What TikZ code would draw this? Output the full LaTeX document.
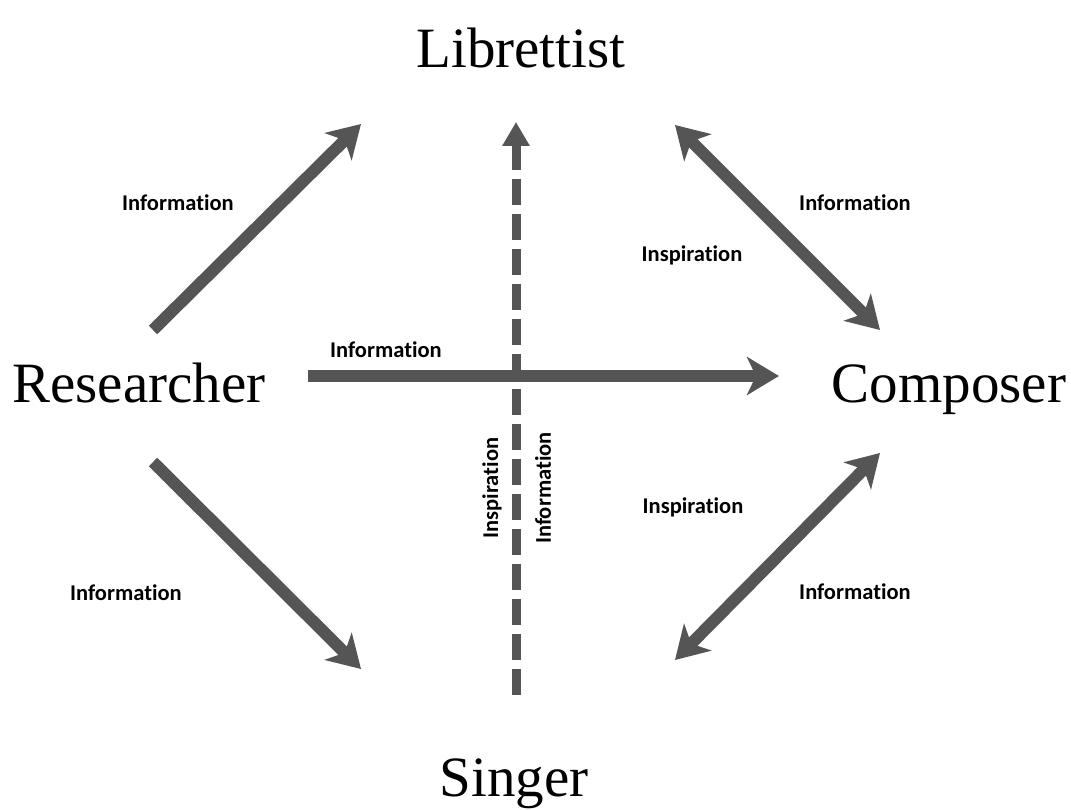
\documentclass[tikz,border=0pt]{standalone}
\usepackage{fontspec}
\setmainfont{Liberation Serif}
\newfontfamily\labfont{Carlito}[Ligatures=NoCommon]
\usetikzlibrary{arrows.meta}
\definecolor{arrowgray}{HTML}{555555}
\tikzset{
  bigtext/.style={font=\fontsize{57}{60}\selectfont, inner sep=0pt, anchor=base},
  smalltext/.style={font=\labfont\bfseries\fontsize{22.5}{25}\selectfont, inner sep=0pt},
  flow/.style={draw=arrowgray, line width=12pt, -{Stealth[length=32pt,width=38pt,inset=9pt]}},
  biflow/.style={draw=arrowgray, line width=12pt, {Stealth[length=32pt,width=38pt,inset=9pt]}-{Stealth[length=32pt,width=38pt,inset=9pt]}},
  dashflow/.style={draw=arrowgray, line width=9pt, dash pattern=on 26pt off 9pt, -{Triangle[length=24pt,width=26pt]}},
}
\begin{document}
\begin{tikzpicture}[x=1pt,y=-1pt]
\useasboundingbox[fill=white] (0,0) rectangle (1071,810);
% main nodes
\node[bigtext] (lib) at (521,68) {Librettist};
\node[bigtext] (res) at (139,402) {Researcher};
\node[bigtext] (com) at (949,402) {Composer};
\node[bigtext] (sin) at (514,796) {Singer};
% connector ends
\coordinate (rl1) at (153,330); \coordinate (rl2) at (361,124);
\coordinate (rs1) at (153,462); \coordinate (rs2) at (361,669);
\coordinate (rc1) at (308,376); \coordinate (rc2) at (779,376);
\coordinate (lc1) at (675,125); \coordinate (lc2) at (880,330);
\coordinate (sc1) at (675,660); \coordinate (sc2) at (880,453);
\coordinate (sl1) at (516,695); \coordinate (sl2) at (516,122);
% connectors
\draw[flow] (rl1) -- (rl2);
\draw[flow] (rs1) -- (rs2);
\draw[flow] (rc1) -- (rc2);
\draw[biflow] (lc1) -- (lc2);
\draw[biflow] (sc1) -- (sc2);
\draw[dashflow] (sl1) -- (sl2);
% labels
\node[smalltext] (l1) at (178,203) {Information};
\node[smalltext] (l2) at (386,350) {Information};
\node[smalltext] (l3) at (126,593) {Information};
\node[smalltext] (l4) at (855,203) {Information};
\node[smalltext] (l5) at (692,255) {Inspiration};
\node[smalltext] (l6) at (693,507) {Inspiration};
\node[smalltext] (l7) at (855,592) {Information};
\node[smalltext, rotate=90] (l8) at (492,488) {Inspiration};
\node[smalltext, rotate=90] (l9) at (543,488) {Information};
\end{tikzpicture}
\end{document}
